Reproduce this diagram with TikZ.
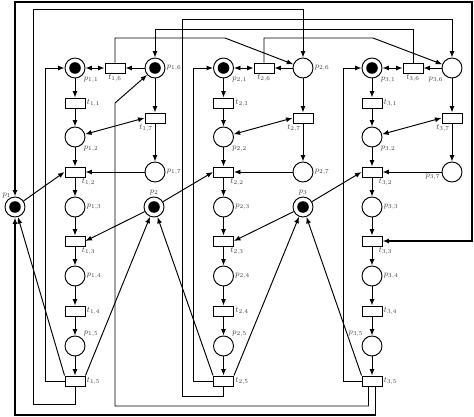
\documentclass[tikz,border=0pt]{standalone}
\usetikzlibrary{arrows,arrows.meta}
\begin{document}
\begin{tikzpicture}[x=1pt,y=-1pt,line width=0.95pt]
        \tikzset{place/.style = {shape=circle,draw,minimum size=20pt,inner sep=0pt}};
        \tikzset{marked/.style = {place,path picture={\fill (path picture bounding box.center) circle (5.8pt);}}};
        \tikzset{trans/.style = {shape=rectangle,draw,minimum width=20pt,minimum height=10pt,inner sep=0pt}};
        \tikzset{lab/.style = {font=\footnotesize,text=black!75,inner sep=1pt}};
        \tikzset{edge/.style = {->,> = {Latex[length=6.5pt,width=5pt]}}};
        \useasboundingbox (0,0) rectangle (474,417);
        % first process
        \node[marked,label={[lab]below right:$p_{1,1}$}] (p11) at (75,68) {};
        \node[trans,label={[lab]below:$t_{1,6}$}] (t16) at (115,68) {};
        \node[marked,label={[lab]right:$p_{1,6}$}] (p16) at (155,68) {};
        \node[trans,label={[lab]right:$t_{1,1}$}] (t11) at (75,103) {};
        \node[place,label={[lab]below right:$p_{1,2}$}] (p12) at (75,137) {};
        \node[trans,label={[lab,xshift=-9pt]below:$t_{1,7}$}] (t17) at (155,118) {};
        \node[place,label={[lab]right:$p_{1,7}$}] (p17) at (155,172) {};
        \node[trans,label={[lab]below right:$t_{1,2}$}] (t12) at (75,172) {};
        \node[place,label={[lab]right:$p_{1,3}$}] (p13) at (75,207) {};
        \node[trans,label={[lab]below right:$t_{1,3}$}] (t13) at (75,241) {};
        \node[place,label={[lab]right:$p_{1,4}$}] (p14) at (75,276) {};
        \node[trans,label={[lab]right:$t_{1,4}$}] (t14) at (75,311) {};
        \node[place,label={[lab]above right:$p_{1,5}$}] (p15) at (75,346) {};
        \node[trans,label={[lab]right:$t_{1,5}$}] (t15) at (75,381) {};
        % second process
        \node[marked,label={[lab]below right:$p_{2,1}$}] (p21) at (223.5,68) {};
        \node[trans,label={[lab]below:$t_{2,6}$}] (t26) at (264,68) {};
        \node[place,label={[lab]right:$p_{2,6}$}] (p26) at (303,68) {};
        \node[trans,label={[lab]right:$t_{2,1}$}] (t21) at (223.5,103) {};
        \node[place,label={[lab]below right:$p_{2,2}$}] (p22) at (223.5,137) {};
        \node[trans,label={[lab,xshift=-9pt]below:$t_{2,7}$}] (t27) at (303,118) {};
        \node[place,label={[lab]right:$p_{2,7}$}] (p27) at (303,172) {};
        \node[trans,label={[lab]below right:$t_{2,2}$}] (t22) at (223.5,172) {};
        \node[place,label={[lab]right:$p_{2,3}$}] (p23) at (223.5,207) {};
        \node[trans,label={[lab]below right:$t_{2,3}$}] (t23) at (223.5,241) {};
        \node[place,label={[lab]right:$p_{2,4}$}] (p24) at (223.5,276) {};
        \node[trans,label={[lab]right:$t_{2,4}$}] (t24) at (223.5,311) {};
        \node[place,label={[lab]above right:$p_{2,5}$}] (p25) at (223.5,346) {};
        \node[trans,label={[lab]right:$t_{2,5}$}] (t25) at (223.5,381) {};
        % third process
        \node[marked,label={[lab]below right:$p_{3,1}$}] (p31) at (372,68) {};
        \node[trans,label={[lab]below:$t_{3,6}$}] (t36) at (413,68) {};
        \node[place,label={[lab]below left:$p_{3,6}$}] (p36) at (452,68) {};
        \node[trans,label={[lab]right:$t_{3,1}$}] (t31) at (372,103) {};
        \node[place,label={[lab]below right:$p_{3,2}$}] (p32) at (372,137) {};
        \node[trans,label={[lab,xshift=-9pt]below:$t_{3,7}$}] (t37) at (452,118) {};
        \node[place,label={[lab,yshift=-5pt]left:$p_{3,7}$}] (p37) at (452,172) {};
        \node[trans,label={[lab]below right:$t_{3,2}$}] (t32) at (372,172) {};
        \node[place,label={[lab]right:$p_{3,3}$}] (p33) at (372,207) {};
        \node[trans,label={[lab]below right:$t_{3,3}$}] (t33) at (372,241) {};
        \node[place,label={[lab]right:$p_{3,4}$}] (p34) at (372,276) {};
        \node[trans,label={[lab]right:$t_{3,4}$}] (t34) at (372,311) {};
        \node[place,label={[lab]above left:$p_{3,5}$}] (p35) at (372,346) {};
        \node[trans,label={[lab]right:$t_{3,5}$}] (t35) at (372,381) {};
        % resources
        \node[marked,label={[lab,xshift=5pt]above left:$p_1$}] (p1) at (15,207) {};
        \node[marked,label={[lab]above:$p_2$}] (p2) at (154,207) {};
        \node[marked,label={[lab]above:$p_3$}] (p3) at (303,207) {};
        % arcs of the first process
        \draw[edge] (p11) to (t11);
        \draw[edge] (t11) to (p12);
        \draw[edge] (p12) to (t12);
        \draw[edge] (t12) to (p13);
        \draw[edge] (p13) to (t13);
        \draw[edge] (t13) to (p14);
        \draw[edge] (p14) to (t14);
        \draw[edge] (t14) to (p15);
        \draw[edge] (p15) to (t15);
        \draw[edge] (p16) to (t16);
        \draw[edge,<->] (t16) to (p11);
        \draw[edge] (p16) to (t17);
        \draw[edge] (t17) to (p17);
        \draw[edge] (p17) to (t12);
        \draw[edge,<->] (t17.west) to (p12);
        \draw[edge] (t15.west) -| (45,68) -- (p11);
        % arcs of the second process
        \draw[edge] (p21) to (t21);
        \draw[edge] (t21) to (p22);
        \draw[edge] (p22) to (t22);
        \draw[edge] (t22) to (p23);
        \draw[edge] (p23) to (t23);
        \draw[edge] (t23) to (p24);
        \draw[edge] (p24) to (t24);
        \draw[edge] (t24) to (p25);
        \draw[edge] (p25) to (t25);
        \draw[edge] (p26) to (t26);
        \draw[edge,<->] (t26) to (p21);
        \draw[edge] (p26) to (t27);
        \draw[edge] (t27) to (p27);
        \draw[edge] (p27) to (t22);
        \draw[edge,<->] (t27.west) to (p22);
        \draw[edge] (t25.west) -| (193,68) -- (p21);
        % arcs of the third process
        \draw[edge] (p31) to (t31);
        \draw[edge] (t31) to (p32);
        \draw[edge] (p32) to (t32);
        \draw[edge] (t32) to (p33);
        \draw[edge] (p33) to (t33);
        \draw[edge] (t33) to (p34);
        \draw[edge] (p34) to (t34);
        \draw[edge] (t34) to (p35);
        \draw[edge] (p35) to (t35);
        \draw[edge] (p36) to (t36);
        \draw[edge,<->] (t36) to (p31);
        \draw[edge] (p36) to (t37);
        \draw[edge] (t37) to (p37);
        \draw[edge] (p37) to (t32);
        \draw[edge,<->] (t37.west) to (p32);
        \draw[edge] (t35.west) -| (343,68) -- (p31);
        % resource arcs
        \draw[edge] (p1) to (t12.west);
        \draw[edge] (p2) to (t22.west);
        \draw[edge] (p3) to (t32.west);
        \draw[edge] (p2) to (t13.east);
        \draw[edge] (p3) to (t23.east);
        \draw[edge] (t15.north west) to (p1);
        \draw[edge] (t15.north east) to (p2);
        \draw[edge] (t25.north west) to (p2);
        \draw[edge] (t25.north east) to (p3);
        \draw[edge] (t35.north west) to (p3);
        % arcs between the processes
        \draw[edge] (t16) |- (225,38) -- (p26);
        \draw[edge] (t26) |- (373,38) -- (p36);
        \draw[edge] (t36) |- (155,29) -- (p16);
        \draw[edge] (t15.south) |- (33,404) |- (303,9) -- (p26);
        \draw[edge] (t25.south) |- (182,396) |- (452,19) -- (p36);
        \draw[edge] ([xshift=-3.5pt]t35.south) |- (115,406) -- (115,103) -- (p16);
        \draw[edge,line width=1.3pt] ([xshift=3.5pt]t35.south) |- (15,415) -- (p1);
        \draw[edge,<->,line width=1.3pt] (p1) |- (472,2) |- (t33);
\end{tikzpicture}
\end{document}
